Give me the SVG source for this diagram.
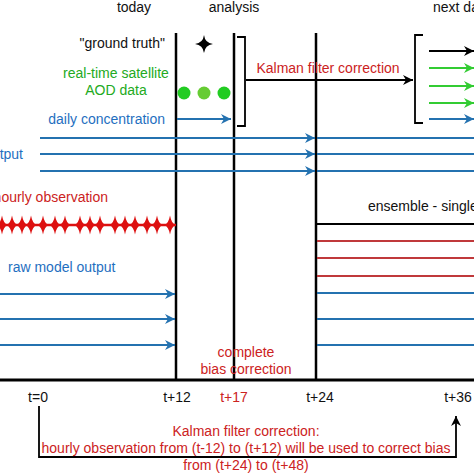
<svg xmlns="http://www.w3.org/2000/svg" width="474" height="474" viewBox="0 0 474 474">
<style>
text{font-family:"Liberation Sans",Arial,Helvetica,sans-serif;font-size:14px}
.k{fill:#111}
.r{fill:#cc2222}
.b{fill:#1f6fbf}
.g{fill:#22aa22}
.vl{stroke:#000;stroke-width:2.5;fill:none}
.bl{stroke:#2472b0;stroke-width:2;fill:none}
.bla{stroke:#2472b0;stroke-width:2;fill:none;marker-end:url(#ab)}
.kl{stroke:#000;stroke-width:1.8;fill:none}
.rl{stroke:#c0393b;stroke-width:2;fill:none}
.gla{stroke:#33cc33;stroke-width:2;fill:none;marker-end:url(#ag)}
</style>
<defs>
<marker id="ab" markerUnits="userSpaceOnUse" markerWidth="11" markerHeight="10" refX="10" refY="5" orient="auto"><path d="M0,0 L10,5 L0,10 L3,5 z" fill="#2472b0"/></marker>
<marker id="ag" markerUnits="userSpaceOnUse" markerWidth="11" markerHeight="10" refX="10" refY="5" orient="auto"><path d="M0,0 L10,5 L0,10 L3,5 z" fill="#33cc33"/></marker>
<marker id="ak" markerUnits="userSpaceOnUse" markerWidth="11" markerHeight="10" refX="10" refY="5" orient="auto"><path d="M0,0 L10,5 L0,10 L3,5 z" fill="#000"/></marker>
<path id="rs" d="M0,-9.5 Q1.5,-1.5 5.5,0 Q1.5,1.5 0,9.5 Q-1.5,1.5 -5.5,0 Q-1.5,-1.5 0,-9.5z" fill="#dd1111"/>
</defs>

<g id="headers">
<text class="k" x="134" y="12" text-anchor="middle">today</text>
<text class="k" x="234" y="12" text-anchor="middle">analysis</text>
<text class="k" x="433" y="12">next day</text>
</g>

<g id="timeline">
<line class="vl" x1="176" y1="33" x2="176" y2="380"/>
<line class="vl" x1="234" y1="33" x2="234" y2="380"/>
<line class="vl" x1="316" y1="33" x2="316" y2="380"/>
<line x1="0" y1="380" x2="474" y2="380" stroke="#000" stroke-width="3"/>
<text class="k" x="38" y="402" text-anchor="middle">t=0</text>
<text class="k" x="177" y="402" text-anchor="middle">t+12</text>
<text class="r" x="234" y="402" text-anchor="middle">t+17</text>
<text class="k" x="320" y="402" text-anchor="middle">t+24</text>
<text class="k" x="458" y="402" text-anchor="middle">t+36</text>
</g>

<g id="ground-truth">
<text class="k" x="165" y="48" text-anchor="end">"ground truth"</text>
<path d="M204,35 Q205,43 213,44 Q205,45 204,53 Q203,45 195,44 Q203,43 204,35z" fill="#000"/>
</g>

<g id="satellite">
<text class="g" x="116" y="78" text-anchor="middle">real-time satellite</text>
<text class="g" x="116" y="95" text-anchor="middle">AOD data</text>
<circle cx="184" cy="93" r="6.5" fill="#22cc22"/>
<circle cx="204" cy="93" r="6.5" fill="#66cc33"/>
<circle cx="224" cy="93" r="6.5" fill="#22cc22"/>
</g>

<g id="daily">
<text class="b" x="165" y="124" text-anchor="end">daily concentration</text>
</g>

<g id="brackets">
<path class="kl" d="M237,37 H245 V126 H237"/>
<path class="kl" d="M423,35 H415 V123 H423"/>
<text class="r" x="328" y="73" text-anchor="middle">Kalman filter correction</text>
</g>

<g id="output-label">
<text class="b" x="23" y="159" text-anchor="end">output</text>
</g>

<g id="hourly-observation">
<text class="r" x="108" y="202" text-anchor="end">hourly observation</text>
<line x1="0" y1="225" x2="176" y2="225" stroke="#dd1111" stroke-width="2.5"/>
<use href="#rs" x="2" y="225"/><use href="#rs" x="12" y="225"/><use href="#rs" x="22" y="225"/><use href="#rs" x="31" y="225"/>
<use href="#rs" x="43" y="225"/><use href="#rs" x="55" y="225"/><use href="#rs" x="65" y="225"/>
<use href="#rs" x="80" y="225"/><use href="#rs" x="90" y="225"/><use href="#rs" x="100" y="225"/>
<use href="#rs" x="115" y="225"/><use href="#rs" x="125" y="225"/><use href="#rs" x="135" y="225"/>
<use href="#rs" x="147" y="225"/><use href="#rs" x="157" y="225"/><use href="#rs" x="170" y="225"/>
</g>

<g id="raw-model">
<text class="b" x="8" y="272">raw model output</text>
</g>

<g id="ensemble">
<text class="k" x="368" y="211">ensemble - single</text>
</g>

<g id="bias-correction">
<text class="r" x="246" y="357" text-anchor="middle">complete</text>
<text class="r" x="246" y="374" text-anchor="middle">bias correction</text>
</g>

<g id="bottom-note">
<text class="r" x="246" y="436" text-anchor="middle">Kalman filter correction:</text>
<text class="r" x="246" y="453" text-anchor="middle">hourly observation from (t-12) to (t+12) will be used to correct bias</text>
<text class="r" x="246" y="470" text-anchor="middle">from (t+24) to (t+48)</text>
</g>

<g id="connectors">
<line class="bla" x1="177" y1="119" x2="231" y2="119"/>
<line class="kl" x1="246" y1="80" x2="413" y2="80" marker-end="url(#ak)"/>
<line class="kl" x1="429" y1="51" x2="474" y2="51" marker-end="url(#ak)"/>
<line class="gla" x1="429" y1="68" x2="474" y2="68"/>
<line class="gla" x1="429" y1="86" x2="474" y2="86"/>
<line class="gla" x1="429" y1="103" x2="474" y2="103"/>
<line class="bla" x1="429" y1="119" x2="474" y2="119"/>
<line class="bla" x1="40" y1="138" x2="315" y2="138"/>
<line class="bla" x1="40" y1="154" x2="315" y2="154"/>
<line class="bla" x1="40" y1="171" x2="315" y2="171"/>
<line class="bl" x1="317" y1="138" x2="474" y2="138"/>
<line class="bl" x1="317" y1="154" x2="474" y2="154"/>
<line class="bl" x1="317" y1="171" x2="474" y2="171"/>
<line class="bla" x1="0" y1="294" x2="175" y2="294"/>
<line class="bla" x1="0" y1="319" x2="175" y2="319"/>
<line class="bla" x1="0" y1="345" x2="175" y2="345"/>
<line class="kl" x1="317" y1="224" x2="474" y2="224"/>
<line class="rl" x1="317" y1="241" x2="474" y2="241"/>
<line class="rl" x1="317" y1="258" x2="474" y2="258"/>
<line class="rl" x1="317" y1="276" x2="474" y2="276"/>
<line class="bl" x1="317" y1="293" x2="474" y2="293"/>
<line class="bl" x1="317" y1="319" x2="474" y2="319"/>
<line class="bl" x1="317" y1="345" x2="474" y2="345"/>
<path class="kl" d="M39,406 V457 H456 V416" marker-end="url(#ak)"/>
</g>
</svg>
